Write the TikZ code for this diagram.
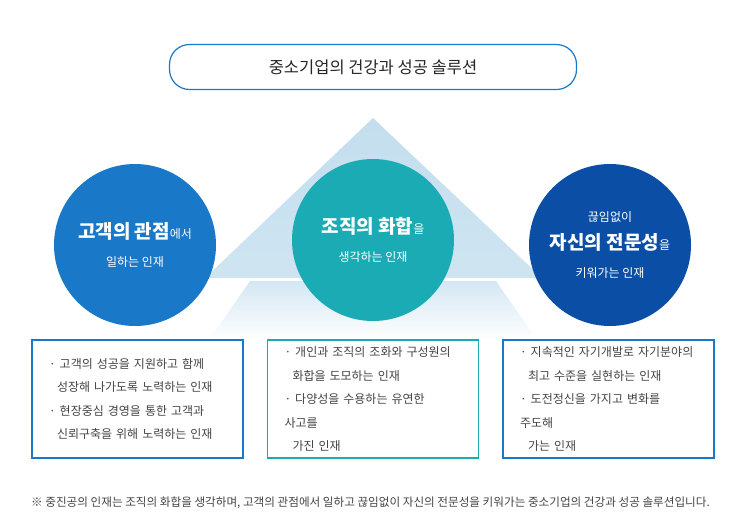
\documentclass[tikz,border=0pt]{standalone}
\usepackage{fontspec}
\setmainfont{Noto Sans CJK KR}
\usetikzlibrary{positioning}
\definecolor{lblue}{HTML}{1A78C8}
\definecolor{teal}{HTML}{1AABB5}
\definecolor{dblue}{HTML}{0A4FA5}
\definecolor{sky}{HTML}{C3DEEE}
\definecolor{pale}{HTML}{D3E7F3}
\definecolor{txt}{HTML}{444444}
\newcommand{\circleradius}{81pt}
\newcommand{\boxwidth}{211pt}
\newcommand{\boxheight}{118pt}
\tikzstyle{bigcircle} = [
  circle,
  minimum size=2*\circleradius,
  text=white,
  align=center,
  inner sep=0pt,
  font=\fontsize{12}{28}\selectfont,
]
\tikzstyle{infobox} = [
  draw,
  line width=1.2pt,
  fill=white,
  minimum width=\boxwidth,
  minimum height=\boxheight,
  text width=\boxwidth-34pt,
  text=txt,
  align=left,
  font=\fontsize{12}{23.5}\selectfont,
]
\newcommand{\bigword}[1]{{\fontsize{19}{28}\selectfont\bfseries #1}}
\newcommand{\smallword}[1]{{\fontsize{12}{28}\selectfont #1}}
\begin{document}
\begin{tikzpicture}[x=1pt,y=-1pt]
    \useasboundingbox (0,0) rectangle (743,515);
    % pyramid behind
    \shade[top color=sky, bottom color=sky!80!white]
      (373,118) -- (205,278) -- (542,278) -- cycle;
    \shade[top color=pale, bottom color=white]
      (250,281) -- (496,281) -- (537,340) -- (209,340) -- cycle;
    % title
    \node[draw=lblue, line width=1.2pt, rounded corners=20pt, fill=white,
      minimum width=407pt, minimum height=45pt,
      font=\fontsize{16.5}{20}\selectfont, text=black!85] (title) at (373,67)
      {중소기업의 건강과 성공 솔루션};
    % circles
    \node[bigcircle, fill=lblue] (customer) at (135,245)
      {\bigword{고객의 관점}\smallword{에서}\\\smallword{일하는 인재}};
    \node[bigcircle, fill=teal] (harmony) at (373,240)
      {\bigword{조직의 화합}\smallword{을}\\\smallword{생각하는 인재}};
    \node[bigcircle, fill=dblue] (expert) at (610,245)
      {\smallword{끊임없이}\\\bigword{자신의 전문성}\smallword{을}\\\smallword{키워가는 인재}};
    % boxes
    \node[infobox, draw=lblue] (custbox) at (137.5,399)
      {· 고객의 성공을 지원하고 함께\\
       \hspace{8pt}성장해 나가도록 노력하는 인재\\
       · 현장중심 경영을 통한 고객과\\
       \hspace{8pt}신뢰구축을 위해 노력하는 인재};
    \node[infobox, draw=teal] (harmbox) at (373,399)
      {· 개인과 조직의 조화와 구성원의\\
       \hspace{8pt}화합을 도모하는 인재\\
       · 다양성을 수용하는 유연한 사고를\\
       \hspace{8pt}가진 인재};
    \node[infobox, draw=lblue] (expbox) at (608.5,399)
      {· 지속적인 자기개발로 자기분야의\\
       \hspace{8pt}최고 수준을 실현하는 인재\\
       · 도전정신을 가지고 변화를 주도해\\
       \hspace{8pt}가는 인재};
    % footnote
    \node[anchor=west, text=txt, font=\fontsize{11.6}{14}\selectfont, inner sep=0pt] (note) at (31,503)
      {※ 중진공의 인재는 조직의 화합을 생각하며, 고객의 관점에서 일하고 끊임없이 자신의 전문성을 키워가는 중소기업의 건강과 성공 솔루션입니다.};
\end{tikzpicture}
\end{document}
